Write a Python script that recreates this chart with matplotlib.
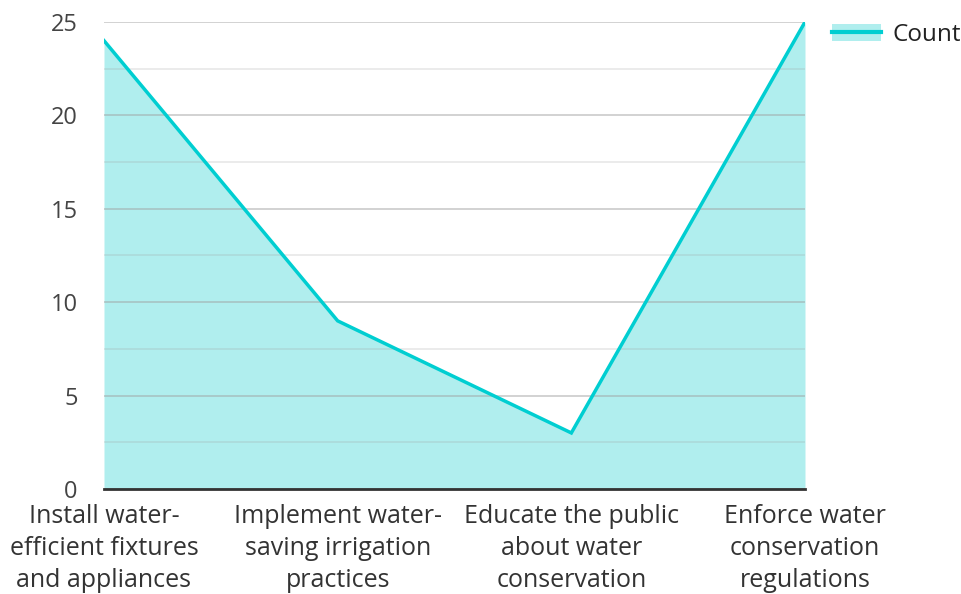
import matplotlib.pyplot as plt
from matplotlib.patches import Patch
from matplotlib.lines import Line2D

plt.rcParams['font.family'] = ['Open Sans', 'DejaVu Sans']

categories = ['Install water-\nefficient fixtures\nand appliances',
              'Implement water-\nsaving irrigation\npractices',
              'Educate the public\nabout water\nconservation',
              'Enforce water\nconservation\nregulations']
counts = [24, 9, 3, 25]
yticks = [0, 5, 10, 15, 20, 25]
yminor = [2.5, 7.5, 12.5, 17.5, 22.5]

line_col = '#00CED1'
fill_col = '#B0EEEE'

fig = plt.figure(figsize=(9.62, 5.94), dpi=100)
ax = fig.add_axes([0.1081, 0.1768, 0.7287, 0.7862])

x = list(range(len(categories)))
ax.fill_between(x, counts, 0, color=fill_col, lw=0, zorder=1)
ax.plot(x, counts, color=line_col, lw=2.5, zorder=3, solid_joinstyle='miter')

ax.set_xlim(0, len(categories) - 1)
ax.set_ylim(0, 25)
ax.set_xticks(x)
ax.set_xticklabels(categories, fontsize=18, color='#333333', linespacing=1.36)
ax.set_yticks(yticks)
ax.set_yticks(yminor, minor=True)
ax.tick_params(axis='y', which='both', length=0, labelsize=17, labelcolor='#444444', pad=19)
ax.tick_params(axis='x', length=0, pad=11)

ax.grid(axis='y', which='major', color='#a0a0a0', alpha=0.55, lw=1.2, zorder=2)
ax.grid(axis='y', which='minor', color='#a0a0a0', alpha=0.25, lw=1.2, zorder=2)
ax.set_axisbelow(False)

for s in ['top', 'right', 'left']:
    ax.spines[s].set_visible(False)
ax.spines['bottom'].set_color('#333333')
ax.spines['bottom'].set_linewidth(2)
ax.spines['bottom'].set_zorder(4)

handle = (Patch(facecolor=fill_col, edgecolor='none'), Line2D([], [], color=line_col, lw=3))
ax.legend([handle], ['Count'], loc='upper left', bbox_to_anchor=(1.008, 1.045),
          frameon=False, fontsize=17.5, handlelength=2.0, handletextpad=0.45,
          labelcolor='#222222')

fig.savefig('out.png', dpi=100)
